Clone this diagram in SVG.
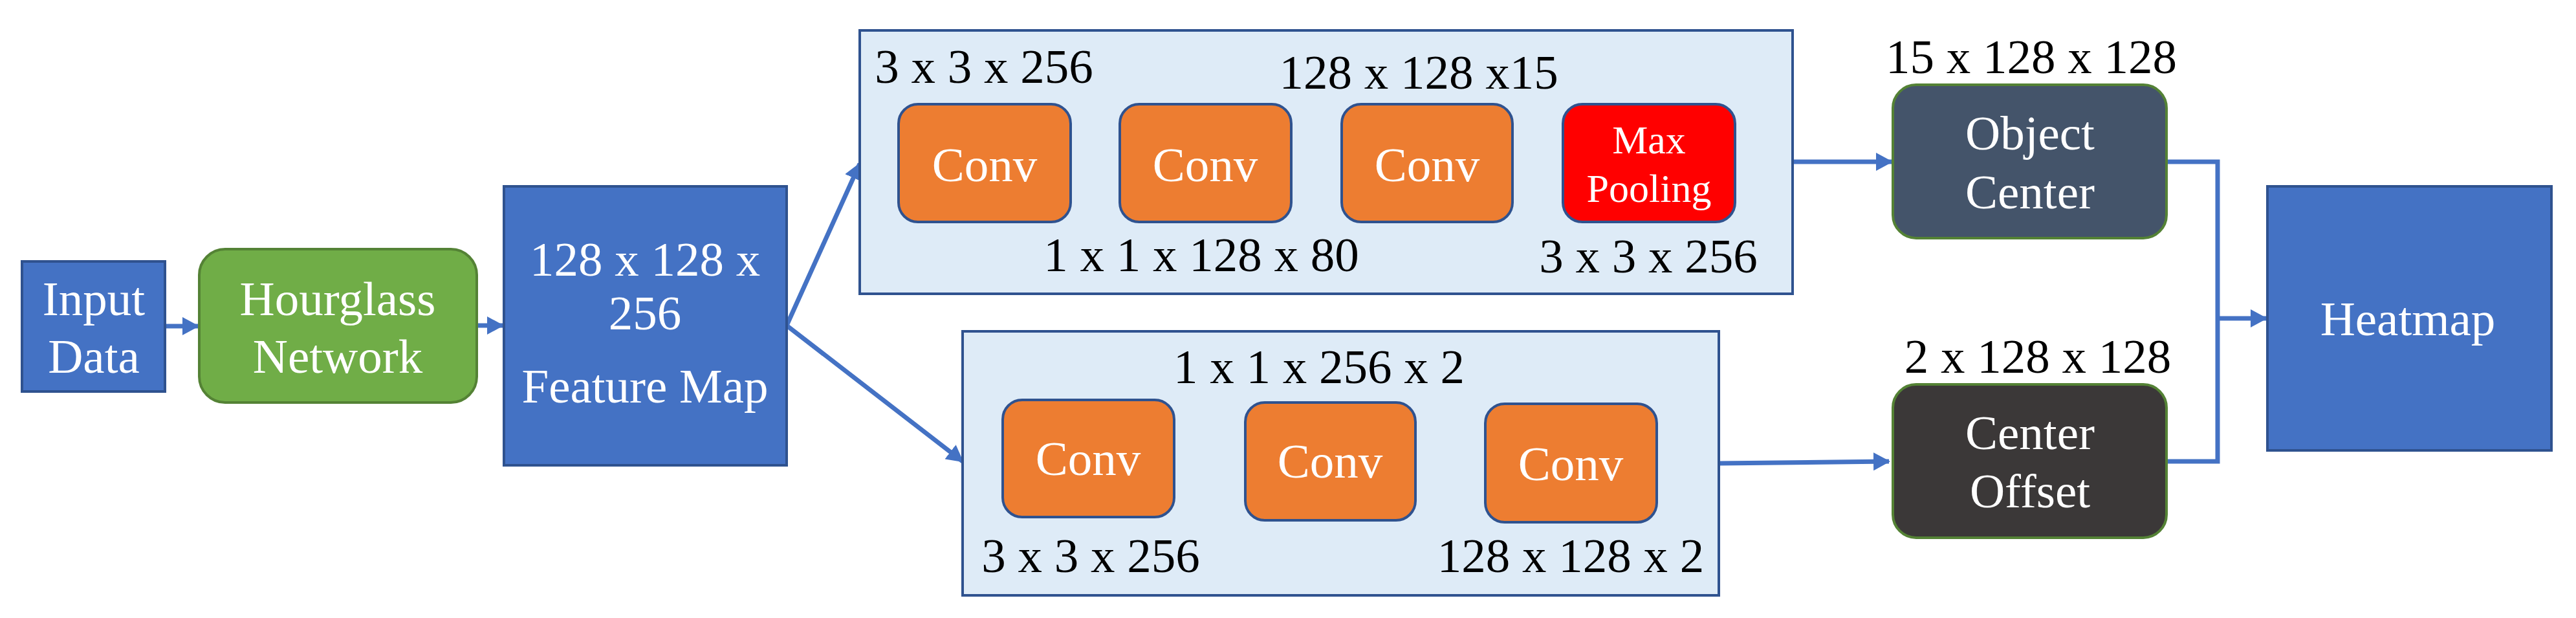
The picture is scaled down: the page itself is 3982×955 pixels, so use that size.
<svg xmlns="http://www.w3.org/2000/svg" width="3982" height="955" viewBox="0 0 3982 955">
<style>
text{font-family:"Liberation Serif","Times New Roman",serif;font-size:75px;text-anchor:middle}
.w{fill:#fff}.k{fill:#000}
.blue{fill:#4472C4;stroke:#2F528F;stroke-width:4}
.panel{fill:#DEEBF7;stroke:#2F528F;stroke-width:4}
.conv{fill:#ED7D31;stroke:#2F528F;stroke-width:4}
.c{fill:none;stroke:#4472C4;stroke-width:7}
</style>
<defs>
<marker id="ah" markerUnits="userSpaceOnUse" markerWidth="26" markerHeight="28" refX="24" refY="14" orient="auto">
<path d="M0,0 L26,14 L0,28 Z" fill="#4472C4"/>
</marker>
</defs>
<g id="connectors">
<line class="c" x1="255" y1="504" x2="306" y2="504" marker-end="url(#ah)"/>
<line class="c" x1="737" y1="503" x2="777" y2="503" marker-end="url(#ah)"/>
<line class="c" x1="1216" y1="503" x2="1329" y2="253" marker-end="url(#ah)"/>
<line class="c" x1="1216" y1="503" x2="1488" y2="713" marker-end="url(#ah)"/>
<line class="c" x1="2771" y1="250" x2="2924" y2="250" marker-end="url(#ah)"/>
<line class="c" x1="2657" y1="716" x2="2920" y2="713" marker-end="url(#ah)"/>
<polyline class="c" points="3349,250 3428,250 3428,713 3349,713"/>
<line class="c" x1="3428" y1="492" x2="3503" y2="492" marker-end="url(#ah)"/>
</g>
<g id="input"><rect class="blue" x="34" y="404" width="221" height="201"/>
<text class="w" x="145" y="487">Input</text><text class="w" x="145" y="576">Data</text></g>
<g id="hourglass"><rect x="308" y="385" width="429" height="237" rx="40" fill="#70AD47" stroke="#548235" stroke-width="4"/>
<text class="w" x="522" y="487">Hourglass</text><text class="w" x="522" y="576">Network</text></g>
<g id="feature"><rect class="blue" x="779" y="288" width="437" height="431"/>
<text class="w" x="997" y="426">128 x 128 x</text><text class="w" x="997" y="509">256</text><text class="w" x="997" y="622">Feature Map</text></g>
<g id="top-panel"><rect class="panel" x="1329" y="47" width="1442" height="407"/>
<text class="k" x="1521" y="128">3 x 3 x 256</text>
<text class="k" x="2193" y="137">128 x 128 x15</text>
<text class="k" x="1857" y="419">1 x 1 x 128 x 80</text>
<text class="k" x="2548" y="421">3 x 3 x 256</text></g>
<g id="top-conv1"><rect class="conv" x="1389" y="161" width="266" height="182" rx="30"/><text class="w" x="1522" y="280">Conv</text></g>
<g id="top-conv2"><rect class="conv" x="1731" y="161" width="265" height="182" rx="30"/><text class="w" x="1863" y="280">Conv</text></g>
<g id="top-conv3"><rect class="conv" x="2074" y="161" width="264" height="182" rx="30"/><text class="w" x="2206" y="280">Conv</text></g>
<g id="maxpool"><rect x="2416" y="161" width="266" height="182" rx="30" fill="#FF0000" stroke="#2F528F" stroke-width="4"/>
<text class="w" x="2549" y="237" style="font-size:62px">Max</text><text class="w" x="2549" y="312" style="font-size:62px">Pooling</text></g>
<g id="bottom-panel"><rect class="panel" x="1488" y="512" width="1169" height="408"/>
<text class="k" x="2039" y="592">1 x 1 x 256 x 2</text>
<text class="k" x="1686" y="884">3 x 3 x 256</text>
<text class="k" x="2428" y="884">128 x 128 x 2</text></g>
<g id="bot-conv1"><rect class="conv" x="1550" y="618" width="265" height="181" rx="30"/><text class="w" x="1682" y="734">Conv</text></g>
<g id="bot-conv2"><rect class="conv" x="1925" y="622" width="263" height="182" rx="30"/><text class="w" x="2056" y="738">Conv</text></g>
<g id="bot-conv3"><rect class="conv" x="2296" y="624" width="265" height="183" rx="30"/><text class="w" x="2428" y="742">Conv</text></g>
<g id="object-center"><text class="k" x="3140" y="113">15 x 128 x 128</text>
<rect x="2926" y="131" width="423" height="237" rx="36" fill="#44546A" stroke="#548235" stroke-width="4"/>
<text class="w" x="3138" y="231">Object</text><text class="w" x="3138" y="322">Center</text></g>
<g id="center-offset"><text class="k" x="3150" y="576">2 x 128 x 128</text>
<rect x="2926" y="594" width="423" height="237" rx="36" fill="#3B3838" stroke="#548235" stroke-width="4"/>
<text class="w" x="3138" y="694">Center</text><text class="w" x="3138" y="784">Offset</text></g>
<g id="heatmap"><rect class="blue" x="3505" y="288" width="439" height="408"/>
<text class="w" x="3722" y="518">Heatmap</text></g>
</svg>
